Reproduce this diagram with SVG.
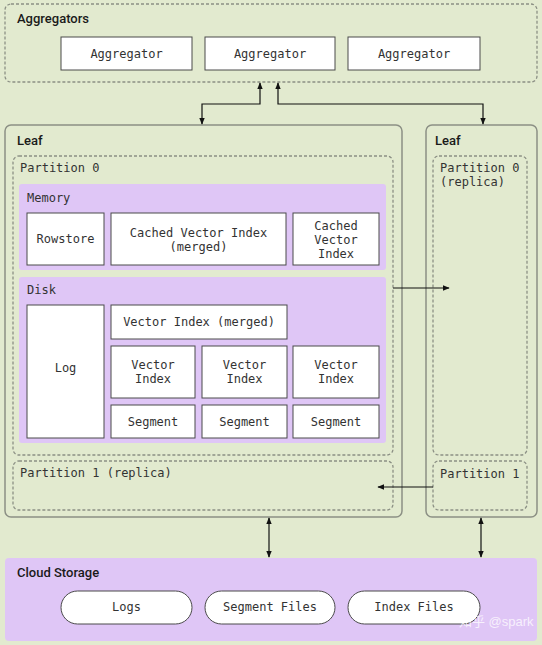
<svg xmlns="http://www.w3.org/2000/svg" width="542" height="645" viewBox="0 0 542 645">
<defs>
<style>
.title{font-family:Roboto,"Liberation Sans",sans-serif;font-size:13px;font-weight:500;fill:#1a1a1a}
.mono{font-family:"DejaVu Sans Mono","Liberation Mono",monospace;font-size:12px;fill:#333333}
.box{fill:#ffffff;stroke:#4a4a4a;stroke-width:1}
.dash{fill:none;stroke:#8c9085;stroke-width:1.3;stroke-dasharray:3 2}
.leaf{fill:none;stroke:#8c9085;stroke-width:1.5}
.purple{fill:#dfc6f6}
.conn{fill:none;stroke:#111;stroke-width:1.2}
</style>
<marker id="ah" viewBox="0 0 10 10" refX="9" refY="5" markerWidth="7" markerHeight="7" orient="auto-start-reverse" markerUnits="userSpaceOnUse">
<path d="M0,1 L10,5 L0,9 z" fill="#111"/>
</marker>
</defs>
<rect width="542" height="645" fill="#e2eacf"/>

<g id="aggregators">
<rect class="dash" x="5" y="4" width="532" height="78" rx="6"/>
<text class="title" x="17" y="23">Aggregators</text>
</g>
<g id="agg1"><rect class="box" x="61" y="37" width="131" height="33"/><text class="mono" x="126.5" y="58" text-anchor="middle">Aggregator</text></g>
<g id="agg2"><rect class="box" x="205" y="37" width="130" height="33"/><text class="mono" x="270" y="58" text-anchor="middle">Aggregator</text></g>
<g id="agg3"><rect class="box" x="348" y="37" width="132" height="33"/><text class="mono" x="414" y="58" text-anchor="middle">Aggregator</text></g>

<g id="leaf1">
<rect class="leaf" x="5" y="125" width="397" height="392" rx="6"/>
<text class="title" x="17" y="145">Leaf</text>
</g>
<g id="partition0">
<rect class="dash" x="13" y="156" width="380" height="299" rx="6"/>
<text class="mono" x="20" y="172">Partition 0</text>
</g>
<g id="memory">
<rect class="purple" x="19" y="184" width="367" height="86" rx="3"/>
<text class="mono" x="27" y="202">Memory</text>
</g>
<g id="rowstore"><rect class="box" x="27" y="213" width="77" height="52"/><text class="mono" x="65.5" y="243" text-anchor="middle">Rowstore</text></g>
<g id="cvim"><rect class="box" x="111" y="213" width="175" height="52"/><text class="mono" x="198.5" y="237" text-anchor="middle">Cached Vector Index</text><text class="mono" x="198.5" y="251" text-anchor="middle">(merged)</text></g>
<g id="cvi"><rect class="box" x="293" y="213" width="86" height="52"/><text class="mono" x="336" y="230" text-anchor="middle">Cached</text><text class="mono" x="336" y="244" text-anchor="middle">Vector</text><text class="mono" x="336" y="258" text-anchor="middle">Index</text></g>
<g id="disk">
<rect class="purple" x="19" y="277" width="367" height="166" rx="3"/>
<text class="mono" x="27" y="294">Disk</text>
</g>
<g id="log"><rect class="box" x="27" y="305" width="77" height="133"/><text class="mono" x="65.5" y="372" text-anchor="middle">Log</text></g>
<g id="vim"><rect class="box" x="111" y="305" width="176" height="34"/><text class="mono" x="199" y="326" text-anchor="middle">Vector Index (merged)</text></g>
<g id="vi1"><rect class="box" x="111" y="346" width="84" height="52"/><text class="mono" x="153" y="369" text-anchor="middle">Vector</text><text class="mono" x="153" y="383" text-anchor="middle">Index</text></g>
<g id="vi2"><rect class="box" x="202" y="346" width="85" height="52"/><text class="mono" x="244.5" y="369" text-anchor="middle">Vector</text><text class="mono" x="244.5" y="383" text-anchor="middle">Index</text></g>
<g id="vi3"><rect class="box" x="293" y="346" width="86" height="52"/><text class="mono" x="336" y="369" text-anchor="middle">Vector</text><text class="mono" x="336" y="383" text-anchor="middle">Index</text></g>
<g id="seg1"><rect class="box" x="111" y="405" width="84" height="33"/><text class="mono" x="153" y="426" text-anchor="middle">Segment</text></g>
<g id="seg2"><rect class="box" x="202" y="405" width="85" height="33"/><text class="mono" x="244.5" y="426" text-anchor="middle">Segment</text></g>
<g id="seg3"><rect class="box" x="293" y="405" width="86" height="33"/><text class="mono" x="336" y="426" text-anchor="middle">Segment</text></g>
<g id="partition1r">
<rect class="dash" x="13" y="461" width="380" height="49" rx="6"/>
<text class="mono" x="20" y="477">Partition 1 (replica)</text>
</g>

<g id="leaf2">
<rect class="leaf" x="426" y="125" width="111" height="392" rx="6"/>
<text class="title" x="435" y="145">Leaf</text>
</g>
<g id="partition0r">
<rect class="dash" x="433" y="156" width="94" height="299" rx="6"/>
<text class="mono" x="440" y="172">Partition 0</text>
<text class="mono" x="440" y="186">(replica)</text>
</g>
<g id="partition1">
<rect class="dash" x="433" y="461" width="94" height="49" rx="6"/>
<text class="mono" x="440" y="478">Partition 1</text>
</g>

<g id="cloud">
<rect class="purple" x="5" y="558" width="532" height="83" rx="4"/>
<text class="title" x="17" y="577">Cloud Storage</text>
</g>
<g id="logs"><rect class="box" x="61" y="591" width="131" height="33" rx="16.5"/><text class="mono" x="126.5" y="611" text-anchor="middle">Logs</text></g>
<g id="segfiles"><rect class="box" x="205" y="591" width="130" height="33" rx="16.5"/><text class="mono" x="270" y="611" text-anchor="middle">Segment Files</text></g>
<g id="idxfiles"><rect class="box" x="348" y="591" width="132" height="33" rx="16.5"/><text class="mono" x="414" y="611" text-anchor="middle">Index Files</text></g>

<g id="connectors">
<path class="conn" d="M260,83 V104 H202 V124" marker-start="url(#ah)" marker-end="url(#ah)"/>
<path class="conn" d="M278,83 V104 H483 V124" marker-start="url(#ah)" marker-end="url(#ah)"/>
<path class="conn" d="M393,288 H449" marker-end="url(#ah)"/>
<path class="conn" d="M433,487 H378" marker-end="url(#ah)"/>
<path class="conn" d="M269,518 V557" marker-start="url(#ah)" marker-end="url(#ah)"/>
<path class="conn" d="M481,518 V557" marker-start="url(#ah)" marker-end="url(#ah)"/>
</g>

<text x="459" y="626" font-family="'Liberation Sans','Noto Sans CJK SC',sans-serif" font-size="13" fill="#ffffff" fill-opacity="0.75">知乎 @spark</text>
</svg>
